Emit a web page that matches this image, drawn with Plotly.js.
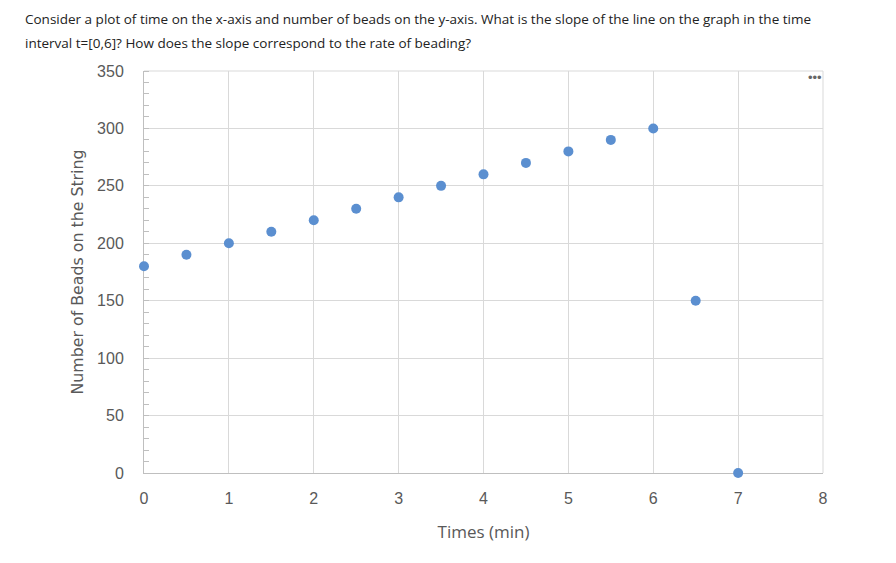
<!DOCTYPE html>
<html>
<head>
<meta charset="utf-8">
<script src="https://cdn.plot.ly/plotly-3.0.1.min.js"></script>
<style>
  html, body { margin: 0; padding: 0; background: #fff; }
  #chart { width: 896px; height: 563px; }
</style>
</head>
<body>
<div id="chart"></div>
<script>
// time (min) and beads counted on the string
var times = [0, 0.5, 1, 1.5, 2, 2.5, 3, 3.5, 4, 4.5, 5, 5.5, 6, 6.5, 7];
var beads = [180, 190, 200, 210, 220, 230, 240, 250, 260, 270, 280, 290, 300, 150, 0];

var xTicks = [0, 1, 2, 3, 4, 5, 6, 7, 8];
var yTicks = [0, 50, 100, 150, 200, 250, 300, 350];

var question1 = 'Consider a plot of time on the x-axis and number of beads on the y-axis. What is the slope of the line on the graph in the time';
var question2 = 'interval t=[0,6]? How does the slope correspond to the rate of beading?';

var grey = '#595959';
var gridCol = '#d9d9d9';

var trace = {
    x: times,
    y: beads,
    mode: 'markers',
    type: 'scatter',
    marker: { color: '#5b8fd0', size: 10 },
    cliponaxis: false,
    hoverinfo: 'x+y'
};

var layout = {
    width: 896,
    height: 563,
    margin: { l: 144, r: 73, t: 71, b: 90 },
    paper_bgcolor: '#fff',
    plot_bgcolor: '#fff',
    showlegend: false,
    font: { family: 'Liberation Sans, sans-serif', color: grey, size: 13 },
    xaxis: {
        range: [0, 8],
        tickvals: xTicks,
        ticktext: xTicks.map(String),
        showgrid: true,
        gridcolor: gridCol,
        gridwidth: 1,
        zeroline: false,
        showline: true,
        linecolor: '#bfbfbf',
        linewidth: 1,
        layer: 'below traces',
        ticks: '',
        ticklabelstandoff: 11,
        tickfont: { size: 16, color: grey, family: 'Liberation Sans, sans-serif' },
        title: {
            text: 'Times (min)',
            standoff: 19,
            font: { size: 17, color: grey, family: 'Open Sans, sans-serif' }
        },
        fixedrange: true
    },
    yaxis: {
        range: [0, 350],
        tickvals: yTicks,
        ticktext: yTicks.map(String),
        showgrid: true,
        gridcolor: gridCol,
        gridwidth: 1,
        zeroline: false,
        showline: true,
        linecolor: '#bfbfbf',
        linewidth: 1,
        layer: 'below traces',
        ticks: '',
        ticklabelstandoff: 16,
        tickfont: { size: 16, color: grey, family: 'Liberation Sans, sans-serif' },
        minor: {
            dtick: 10,
            ticks: 'inside',
            ticklen: 5,
            tickcolor: '#bfbfbf',
            showgrid: false
        },
        title: {
            text: 'Number of Beads on the String',
            standoff: 9,
            font: { size: 15.8, color: grey, family: 'DejaVu Sans, sans-serif' }
        },
        fixedrange: true
    },
    annotations: [
        {
            text: question1, xref: 'paper', yref: 'paper',
            x: -0.178, y: 1.13, xanchor: 'left', yanchor: 'middle',
            showarrow: false,
            font: { family: 'Open Sans, sans-serif', size: 13.5, color: '#222' }
        },
        {
            text: question2, xref: 'paper', yref: 'paper',
            x: -0.178, y: 1.07, xanchor: 'left', yanchor: 'middle',
            showarrow: false,
            font: { family: 'Open Sans, sans-serif', size: 13.5, color: '#222' }
        },
        {
            // menu dots in the corner of the source picture
            text: '\u2022\u2022\u2022', xref: 'paper', yref: 'paper',
            x: 1.002, y: 0.985, xanchor: 'right', yanchor: 'middle',
            showarrow: false,
            font: { size: 13, color: '#666' }
        }
    ],
    shapes: [
        // top and right frame of the plot area
        { type: 'line', xref: 'paper', yref: 'paper', x0: 0, x1: 1, y0: 1, y1: 1, layer: 'below', line: { color: gridCol, width: 1 } },
        { type: 'line', xref: 'paper', yref: 'paper', x0: 1, x1: 1, y0: 0, y1: 1, layer: 'below', line: { color: gridCol, width: 1 } }
    ]
};

Plotly.newPlot('chart', [trace], layout, { displayModeBar: false, staticPlot: true });
</script>
</body>
</html>
